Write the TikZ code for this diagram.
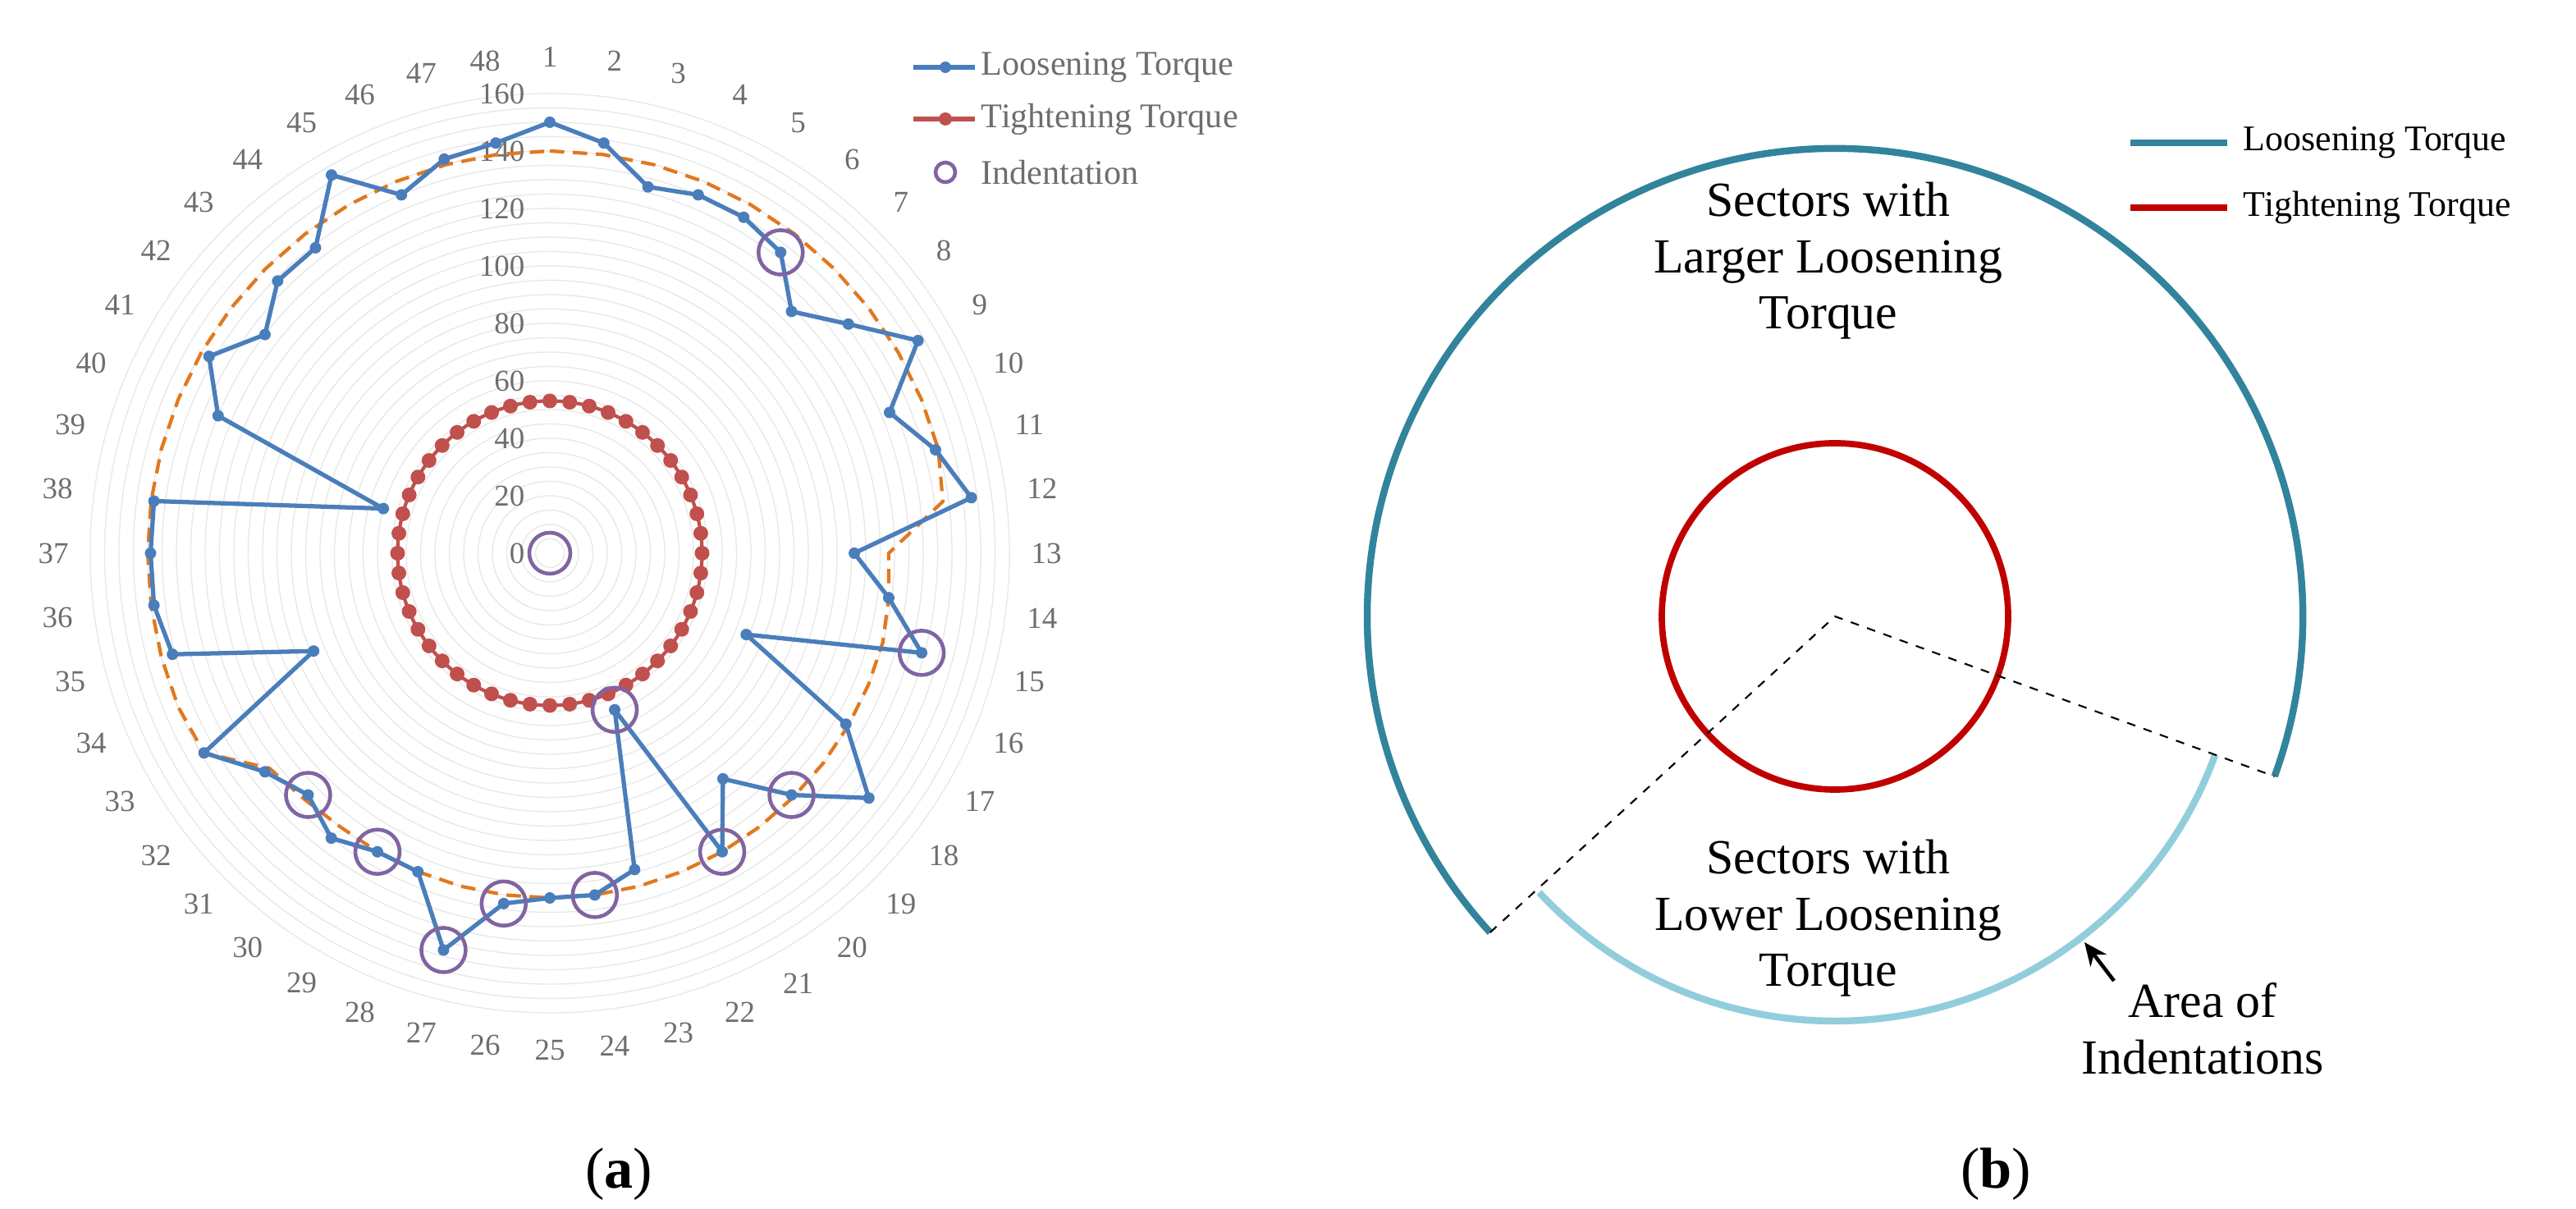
\documentclass[tikz,border=0pt]{standalone}
\usepackage{fontspec}
\setmainfont{Liberation Serif}
\usetikzlibrary{arrows.meta}
\definecolor{lblue}{RGB}{74,126,187}
\definecolor{tred}{RGB}{192,80,77}
\definecolor{ipurp}{RGB}{128,100,162}
\definecolor{dorange}{RGB}{226,120,30}
\definecolor{dteal}{RGB}{49,132,155}
\definecolor{lteal}{RGB}{146,205,220}
\definecolor{dred}{RGB}{192,0,0}
\definecolor{lblgray}{RGB}{110,110,110}
\tikzset{
  loose/.style={draw=lblue,line width=1.5pt,line join=round},
  ldot/.style={fill=lblue,draw=none},
  tdot/.style={fill=tred,draw=none},
  indent/.style={draw=ipurp,line width=1.3pt},
  glabel/.style={text=lblgray,font=\fontsize{10.5}{12}\selectfont,inner sep=0pt},
  legtxt/.style={text=lblgray,font=\fontsize{12}{14}\selectfont,anchor=west,inner sep=0pt},
  bigtxt/.style={align=center,font=\fontsize{17}{19.5}\selectfont,inner sep=0pt},
}
\begin{document}
\begin{tikzpicture}
\useasboundingbox (0,0) rectangle (31.39,14.73);
% ---------- panel (a) ----------
\begin{scope}[shift={(6.70,7.99)}]
  \foreach \r in {5,10,...,160} \draw[gray!18,line width=0.4pt] (0,0) circle ({\r*0.035});
  \foreach \v [count=\k from 0] in {0,20,...,160}
    \node[glabel,anchor=east] (ax\k) at (-0.30,{\v*0.035}) {\v};
  \foreach \k in {1,...,48}
    \node[glabel] (cat\k) at ({90-(\k-1)*7.5}:6.05) {\k};
  % orange dashed
  \foreach \v [count=\k] in {140,140,140,140,140,140,140,140,140,140,140,138,118,119,120,120,120,120,120,120,120,120,120,120,120,120,120,120,120,120,121,123,139,140,140,140,140,140,140,140,140,140,140,140,140,140,140,140}
    \coordinate (O\k) at ({90-(\k-1)*7.5}:{\v*0.035});
  \draw[dorange,line width=1.2pt,dash pattern=on 5pt off 3pt] (O1) \foreach \k in {2,...,48}{ -- (O\k)} -- cycle;
  % tightening
  \foreach \k in {1,...,48} \coordinate (T\k) at ({90-(\k-1)*7.5}:{53*0.035});
  \draw[tred,line width=1.2pt] (0,0) circle (1.855);
  \foreach \k in {1,...,48} \fill[tdot] (T\k) circle (0.09);
  % loosening
  \foreach \v [count=\k] in {150,144,132,135,135,132,119,131,148,128,139,148,106,119,134,74,119,140,119,99,120,59,114,120,120,123,143,120,120,125,119,125,139,89,136,139,139,139,60,125,137,125,134,134,152,135,142,144}
    \coordinate (L\k) at ({90-(\k-1)*7.5}:{\v*0.035});
  \draw[loose] (L1) \foreach \k in {2,...,48}{ -- (L\k)} -- cycle;
  \foreach \k in {1,...,48} \fill[ldot] (L\k) circle (0.07);
  % indentations
  \foreach \k in {6,15,19,21,22,24,26,27,29,31} \draw[indent] (L\k) circle (0.27);
  \draw[indent] (0,0) circle (0.25);
\end{scope}
% legend (a)
\coordinate (la1) at (11.13,13.91); \coordinate (la2) at (11.88,13.91);
\draw[loose] (la1) -- (la2); \fill[ldot] (11.52,13.91) circle (0.07);
\node[legtxt] (lta) at (11.95,13.91) {Loosening Torque};
\coordinate (lb1) at (11.13,13.28); \coordinate (lb2) at (11.88,13.28);
\draw[tred,line width=1.5pt] (lb1) -- (lb2); \fill[tdot] (11.52,13.28) circle (0.08);
\node[legtxt] (ltb) at (11.95,13.28) {Tightening Torque};
\draw[indent] (11.52,12.63) circle (0.12);
\node[legtxt] (ltc) at (11.95,12.63) {Indentation};
\node[font=\fontsize{20}{24}\selectfont,inner sep=0pt] (capa) at (7.54,0.42) {(\textbf{a})};
% ---------- panel (b) ----------
\begin{scope}[shift={(22.36,7.22)}]
  \coordinate (C) at (0,0);
  \coordinate (E1) at (-20:5.70);
  \coordinate (E2) at (222.5:5.70);
  \draw[dteal,line width=2.4pt] (E1) arc[start angle=-20,end angle=222.5,radius=5.70];
  \draw[lteal,line width=2.4pt] (223:4.93) arc[start angle=223,end angle=340,radius=4.93];
  \draw[dred,line width=2.2pt] (C) circle (2.11);
  \draw[black,dashed,line width=0.6pt] (E2) -- (C) -- (E1);
\end{scope}
\node[bigtxt] (upper) at (22.28,11.55) {Sectors with\\Larger Loosening\\Torque};
\node[bigtxt] (lower) at (22.28,3.54) {Sectors with\\Lower Loosening\\Torque};
\node[bigtxt] (area) at (26.84,2.20) {Area of\\Indentations};
\coordinate (arrt) at (25.40,3.25);
\draw[-{Stealth[length=8pt,width=7pt]},line width=1.3pt] (25.76,2.78) -- (arrt);
\coordinate (lc1) at (25.96,12.99); \coordinate (lc2) at (27.14,12.99);
\draw[dteal,line width=2.4pt] (lc1) -- (lc2);
\node[anchor=west,font=\fontsize{12.5}{14}\selectfont,inner sep=0pt] (ltd) at (27.33,12.99) {Loosening Torque};
\coordinate (ld1) at (25.96,12.20); \coordinate (ld2) at (27.14,12.20);
\draw[dred,line width=2.4pt] (ld1) -- (ld2);
\node[anchor=west,font=\fontsize{12.5}{14}\selectfont,inner sep=0pt] (lte) at (27.33,12.20) {Tightening Torque};
\node[font=\fontsize{20}{24}\selectfont,inner sep=0pt] (capb) at (24.32,0.42) {(\textbf{b})};
\end{tikzpicture}
\end{document}
